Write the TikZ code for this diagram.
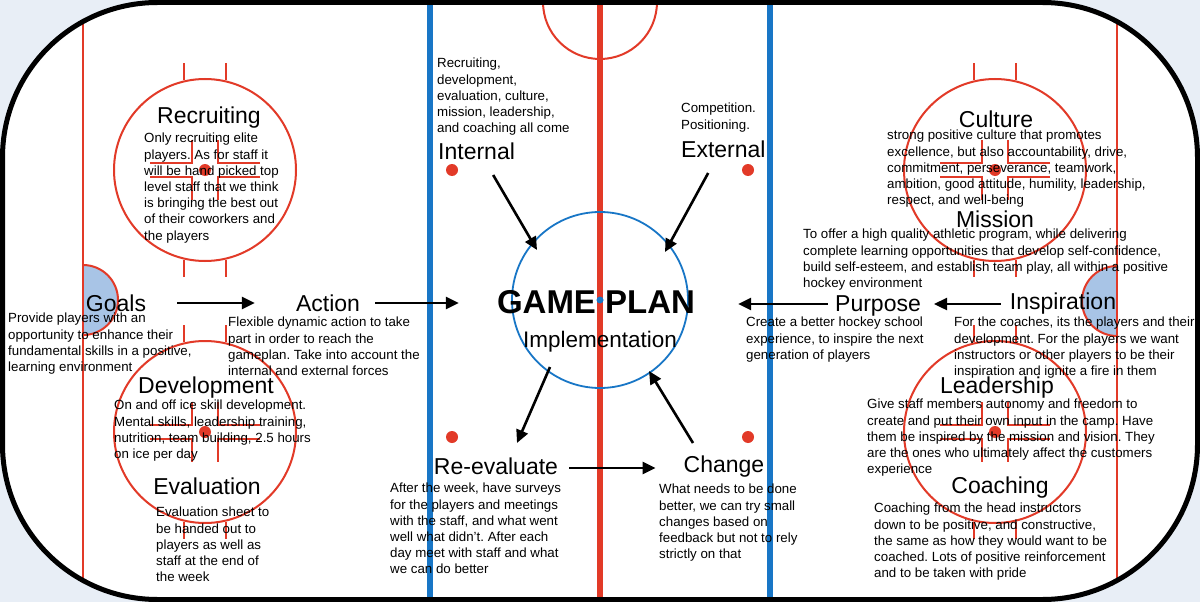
\documentclass[tikz,border=0pt]{standalone}
\usepackage{fontspec}
\setmainfont{Liberation Sans}
\usetikzlibrary{arrows.meta,calc}
\frenchspacing
\definecolor{rred}{RGB}{226,58,40}
\definecolor{rblue}{RGB}{24,118,198}
\definecolor{crease}{RGB}{168,196,230}
\definecolor{outside}{RGB}{232,238,246}
\tikzset{
  ttl/.style={font=\fontsize{23}{26}\selectfont, inner sep=0pt, anchor=base},
  bdy/.style={font=\fontsize{13.3}{16.2}\selectfont, align=left, inner sep=0pt, anchor=north west,
    execute at begin node={\rule{0pt}{10pt}}},
  arr/.style={line width=2.6pt, -{Triangle[length=13pt,width=12pt]}},
  redl/.style={rred, line width=2pt},
  hashm/.style={rred, line width=1.8pt},
  rinkdot/.style={rred},
}
\newcommand\fcircle[2]{%
  \draw[redl] (#1,#2) circle[radius=91];
  \fill[rred] (#1,#2) circle[radius=6];
  \draw[hashm] (#1-21,#2-90) -- (#1-21,#2-107);
  \draw[hashm] (#1+21,#2-90) -- (#1+21,#2-107);
  \draw[hashm] (#1-21,#2+90) -- (#1-21,#2+107);
  \draw[hashm] (#1+21,#2+90) -- (#1+21,#2+107);
  \draw[hashm] (#1-55,#2-7) -- (#1-13,#2-7) -- (#1-13,#2-30);
  \draw[hashm] (#1+55,#2-7) -- (#1+13,#2-7) -- (#1+13,#2-30);
  \draw[hashm] (#1-55,#2+7) -- (#1-13,#2+7) -- (#1-13,#2+30);
  \draw[hashm] (#1+55,#2+7) -- (#1+13,#2+7) -- (#1+13,#2+30);
}
\begin{document}
\begin{tikzpicture}[x=1pt,y=-1pt]
\useasboundingbox (0,0) rectangle (1200,602);
\fill[outside] (0,0) rectangle (1200,602);
\fill[white, rounded corners=155pt] (2.5,2.5) rectangle (1197.5,599.5);
\begin{scope}
  \clip[rounded corners=155pt] (2.5,2.5) rectangle (1197.5,599.5);
  % creases
  \fill[crease] (83,265) arc[start angle=-90, end angle=90, radius=35] -- cycle;
  \draw[redl] (83,265) arc[start angle=-90, end angle=90, radius=35];
  \fill[crease] (1117,266) arc[start angle=-90, end angle=-270, radius=35] -- cycle;
  \draw[redl] (1117,266) arc[start angle=-90, end angle=-270, radius=35];
  % goal lines
  \draw[redl] (83,0) -- (83,602);
  \draw[redl] (1117,0) -- (1117,602);
  % blue lines
  \draw[rblue, line width=6pt] (430,0) -- (430,602);
  \draw[rblue, line width=6pt] (770,0) -- (770,602);
  % top centre arc
  \draw[redl] (600,2) circle[radius=57];
  % faceoff circles
  \fcircle{205}{170}
  \fcircle{205}{432}
  \fcircle{995}{170}
  \fcircle{995}{432}
  % neutral zone dots
  \fill[rinkdot] (452,170) circle[radius=6];
  \fill[rinkdot] (748,170) circle[radius=6];
  \fill[rinkdot] (452,437) circle[radius=6];
  \fill[rinkdot] (748,437) circle[radius=6];
  % centre line
  \draw[rred, line width=6pt] (600,0) -- (600,602);
\end{scope}
\node[draw=rblue, line width=1.8pt, circle, minimum size=176pt, inner sep=0pt] (gpc) at (600,300) {};
\fill[rblue] (gpc.center) circle[radius=3.5];
\draw[black, line width=5pt, rounded corners=155pt] (2.5,2.5) rectangle (1197.5,599.5);

% titles
\node[ttl] (recruiting) at (209,124) {Recruiting};
\node[ttl] (goals) at (116,311) {Goals};
\node[ttl] (action) at (328,311) {Action};
\node[ttl] (development) at (206,393) {Development};
\node[ttl] (evaluation) at (207,494) {Evaluation};
\node[ttl, anchor=base west] (internal) at (438,159) {Internal};
\node[ttl, anchor=base west] (external) at (681,157) {External};
\node[ttl, font=\fontsize{33}{36}\selectfont\bfseries] (gptxt) at (596,313) {GAME PLAN};
\node[ttl, font=\fontsize{22.5}{26}\selectfont] (impl) at (600,347) {Implementation};
\node[ttl] (reeval) at (496,474) {Re-evaluate};
\node[ttl] (change) at (724,472) {Change};
\node[ttl] (culture) at (996,127) {Culture};
\node[ttl] (mission) at (995,227) {Mission};
\node[ttl] (purpose) at (878,311) {Purpose};
\node[ttl] (inspiration) at (1063,309) {Inspiration};
\node[ttl] (leadership) at (997,393) {Leadership};
\node[ttl] (coaching) at (1000,493) {Coaching};

% bodies (y = first baseline - 10)
\node[bdy] (recruitingtxt) at (144,133) {Only recruiting elite\\players. As for staff it\\will be hand picked top\\level staff that we think\\is bringing the best out\\of their coworkers and\\the players};
\node[bdy] (goalstxt) at (8,313) {Provide players with an\\opportunity to enhance their\\fundamental skills in a positive,\\learning environment};
\node[bdy] (actiontxt) at (228,317) {Flexible dynamic action to take\\part in order to reach the\\gameplan. Take into account the\\internal and external forces};
\node[bdy] (devtxt) at (114,400) {On and off ice skill development.\\Mental skills, leadership training,\\nutrition, team building, 2.5 hours\\on ice per day};
\node[bdy] (evaltxt) at (156,507) {Evaluation sheet to\\be handed out to\\players as well as\\staff at the end of\\the week};
\node[bdy] (internaltxt) at (437,58) {Recruiting,\\development,\\evaluation, culture,\\mission, leadership,\\and coaching all come};
\node[bdy] (externaltxt) at (681,103) {Competition.\\Positioning.};
\node[bdy] (reevaltxt) at (390,483) {After the week, have surveys\\for the players and meetings\\with the staff, and what went\\well what didn’t. After each\\day meet with staff and what\\we can do better};
\node[bdy] (changetxt) at (659,484) {What needs to be done\\better, we can try small\\changes based on\\feedback but not to rely\\strictly on that};
\node[bdy] (culturetxt) at (887,130) {strong positive culture that promotes\\excellence, but also accountability, drive,\\commitment, perseverance, teamwork,\\ambition, good attitude, humility, leadership,\\respect, and well-being};
\node[bdy] (missiontxt) at (803,229) {To offer a high quality athletic program, while delivering\\complete learning opportunities that develop self-confidence,\\build self-esteem, and establish team play, all within a positive\\hockey environment};
\node[bdy] (purposetxt) at (746,317) {Create a better hockey school\\experience, to inspire the next\\generation of players};
\node[bdy] (inspirationtxt) at (954,317) {For the coaches, its the players and their\\development. For the players we want\\instructors or other players to be their\\inspiration and ignite a fire in them};
\node[bdy] (leadershiptxt) at (867,399) {Give staff members autonomy and freedom to\\create and put their own input in the camp. Have\\them be inspired by the mission and vision. They\\are the ones who ultimately affect the customers\\experience};
\node[bdy] (coachingtxt) at (874,503) {Coaching from the head instructors\\down to be positive, and constructive,\\the same as how they would want to be\\coached. Lots of positive reinforcement\\and to be taken with pride};

% arrows
\draw[arr] ($(goals.base east)+(31pt,8pt)$) -- ($(goals.base east -| action.base west)+(-41pt,8pt)$);
\draw[arr] ($(action.base east)+(15pt,8pt)$) -- ($(action.base east -| gptxt.base west)+(-38pt,8pt)$);
\draw[arr] ($(inspiration.base west)+(-9pt,5pt)$) -- ($(inspiration.base west -| purpose.base east)+(13pt,5pt)$);
\draw[arr] ($(inspiration.base west -| purpose.base west)+(-7pt,5pt)$) -- ($(inspiration.base west -| gptxt.base east)+(43pt,5pt)$);
\draw[arr] ($(reeval.base east)+(11pt,6pt)$) -- ($(reeval.base east -| change.base west)+(-28pt,6pt)$);
\draw[arr] ($(internal.base)+(16.6pt,-16pt)$) -- ($(gpc.center)+(-63pt,50pt)$);
\draw[arr] ($(external.base)+(-15.2pt,-16pt)$) -- ($(gpc.center)+(65pt,48pt)$);
\draw[arr] ($(gpc.center)+(-50pt,-67pt)$) -- ($(reeval.base)+(21pt,31pt)$);
\draw[arr] ($(change.base)+(-31pt,29pt)$) -- ($(gpc.center)+(49pt,-71pt)$);
\end{tikzpicture}
\end{document}
